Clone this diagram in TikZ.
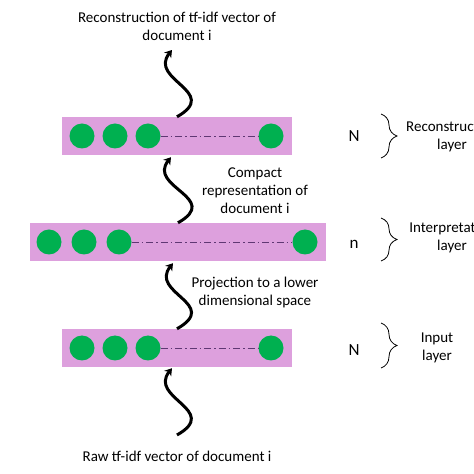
\documentclass[tikz,border=0pt]{standalone}
\usepackage{fontspec}
\setmainfont{Carlito}
\usetikzlibrary{arrows.meta}
\usetikzlibrary{decorations.pathreplacing}
\definecolor{layerpink}{RGB}{221,160,221}
\definecolor{unitgreen}{RGB}{0,176,80}
\definecolor{dotline}{RGB}{95,55,115}
\tikzset{
  layer/.style={fill=layerpink, draw=none, minimum height=38pt, inner sep=0pt},
  unit/.style={circle, fill=unitgreen, minimum size=25pt, inner sep=0pt},
  squiggle/.style={line width=3pt, -{Stealth[length=7pt,width=9pt]}},
  txt/.style={font=\fontsize{15}{18}\selectfont, align=center, inner sep=0pt},
  sizetxt/.style={font=\fontsize{17}{20}\selectfont, inner sep=0pt},
  layerbrace/.style={decorate, decoration={brace, amplitude=16pt}, line width=0.8pt}
}

\begin{document}
\begin{tikzpicture}[x=1pt,y=1pt]
\useasboundingbox (0,0) rectangle (474,474);
\clip (0,0) rectangle (474,474);

% the three layers
\node[layer, minimum width=230pt] (recL) at (177,338) {};
\node[layer, minimum width=296pt] (midL) at (178,232) {};
\node[layer, minimum width=230pt] (inL) at (177,126) {};

\node[unit] (rec1) at (82,338) {};
\node[unit] (rec2) at (115,338) {};
\node[unit] (rec3) at (148,338) {};
\node[unit] (rec4) at (271,338) {};
\node[unit] (mid1) at (49,232) {};
\node[unit] (mid2) at (84,232) {};
\node[unit] (mid3) at (119,232) {};
\node[unit] (mid4) at (305,232) {};
\node[unit] (in1) at (82,126) {};
\node[unit] (in2) at (115,126) {};
\node[unit] (in3) at (148,126) {};
\node[unit] (in4) at (271,126) {};

\draw[dotline, line width=0.8pt, dash pattern=on 7pt off 3pt on 1.5pt off 3pt] (rec3) -- (rec4);
\draw[dotline, line width=0.8pt, dash pattern=on 7pt off 3pt on 1.5pt off 3pt] (mid3) -- (mid4);
\draw[dotline, line width=0.8pt, dash pattern=on 7pt off 3pt on 1.5pt off 3pt] (in3) -- (in4);

% texts
\node[txt] (title) at (177,448) {Reconstruction of tf-idf vector of\\document i};
\node[txt] (compact) at (255,283) {Compact\\representation of\\document i};
\node[txt] (proj) at (255,181.5) {Projection to a lower\\dimensional space};
\node[txt] (raw) at (177,18) {Raw tf-idf vector of document i};

\coordinate (rawStart) at (177,39);
\coordinate (outEnd) at (172,424);

% wavy arrows
\draw[squiggle] (rawStart) .. controls +(44,25) and +(-24,-30) .. ([shift={(-5,-1)}]inL.south);
\draw[squiggle] (inL.north) .. controls +(44,25) and +(-24,-30) .. ([shift={(-5,-2)}]midL.south);
\draw[squiggle] (midL.north) .. controls +(44,25) and +(-24,-30) .. ([shift={(-6,-2)}]recL.south);
\draw[squiggle] (recL.north) .. controls +(44,25) and +(-24,-30) .. (outEnd);

% sizes and braces
\node[sizetxt] (recN) at (354,338) {N};
\node[sizetxt] (midN) at (354,230) {n};
\node[sizetxt] (inN) at (354,124) {N};

\draw[layerbrace] (381,360) -- (381,316);
\draw[layerbrace] (381,256) -- (381,213);
\draw[layerbrace] (381,151) -- (381,106);

\node[txt] (recLab) at (452,337.5) {Reconstruction\\layer};
\node[txt] (midLab) at (452,236) {Interpretation\\layer};
\node[txt] (inLab) at (437,126.5) {Input\\layer};

\end{tikzpicture}
\end{document}
